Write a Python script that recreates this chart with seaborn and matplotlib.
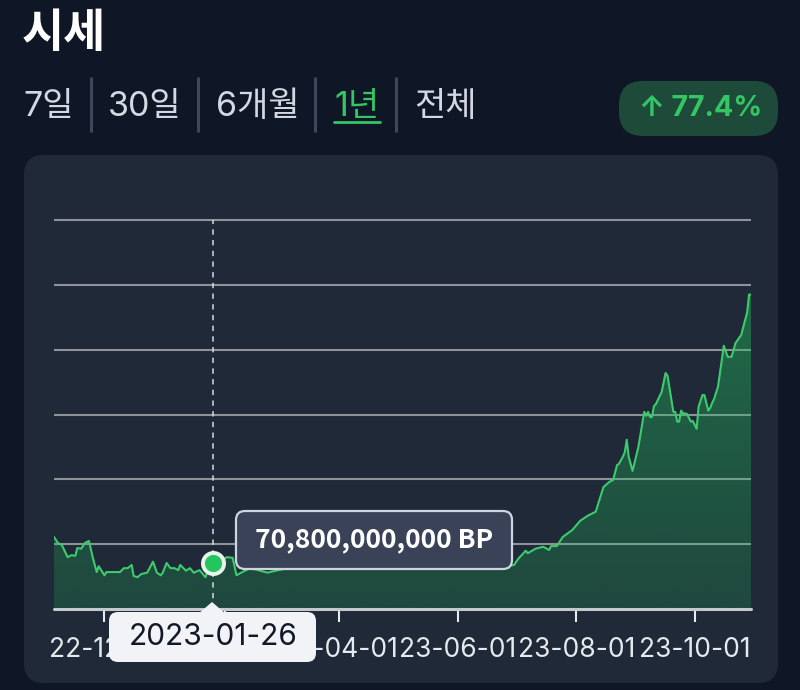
import numpy as np
import pandas as pd
import matplotlib
matplotlib.use('Agg')
import matplotlib.pyplot as plt
import matplotlib.dates as mdates
from matplotlib.patches import FancyBboxPatch, Polygon
import seaborn as sns

# Data (values in billions of BP)
start_date = '2022-11-05'
days = [0, 2, 4, 7, 9, 11, 12, 14, 16, 18, 20, 22, 23, 26, 27, 31, 34, 36, 38, 40,
        41, 43, 45, 48, 51, 53, 55, 56, 58, 60, 62, 64, 65, 68, 70, 72, 75, 78, 79, 82,
        84, 87, 89, 92, 94, 97, 101, 105, 110, 114, 119, 127, 147, 168, 189, 209, 230, 237, 239, 243,
        244, 248, 252, 255, 256, 259, 262, 267, 271, 275, 279, 283, 286, 288, 290, 291, 293, 294, 295, 296,
        298, 301, 304, 305, 306, 307, 308, 309, 310, 313, 315, 316, 319, 320, 321, 322, 323, 324, 326, 328,
        329, 331, 332, 334, 335, 337, 338, 339, 340, 342, 345, 347, 349, 351, 354, 355, 357, 358, 359]
prices = [111, 102, 99, 80, 83, 82, 94, 93, 102, 105, 79, 57, 66, 52, 57, 57, 57, 63, 63, 68,
          51, 49, 54, 56, 73, 56, 52, 56, 71, 63, 63, 60, 68, 59, 63, 56, 60, 49, 57, 70.8,
          66, 76, 80, 79, 52, 57, 63, 60, 56, 59, 62, 66, 68, 66, 69, 65, 65, 68, 77, 90,
          86, 93, 96, 91, 97, 97, 111, 122, 136, 144, 150, 188, 196, 199, 222, 224, 235, 242, 261, 235,
          213, 250, 304, 298, 304, 296, 296, 313, 316, 335, 364, 360, 304, 304, 289, 289, 306, 302, 301, 289,
          290, 278, 312, 330, 330, 306, 310, 318, 324, 343, 406, 389, 389, 410, 423, 435, 457, 485, 485]
tick_dates = ['2022-12-01', '2023-02-01', '2023-04-01', '2023-06-01', '2023-08-01', '2023-10-01']
grid_values = [100, 200, 300, 400, 500, 600]
tabs = ['7일', '30일', '6개월', '1년', '전체']
selected_date = '2023-01-26'
selected_price = 70.8

dates = pd.Timestamp(start_date) + pd.to_timedelta(days, unit='D')
df = pd.DataFrame({'date': dates, 'price': prices})

sns.set_theme(style='dark')
plt.rcParams['font.family'] = ['Inter', 'Noto Sans CJK KR', 'DejaVu Sans']

BG = '#0f1726'
PANEL = '#1f2937'
GREEN = '#34c565'

fig = plt.figure(figsize=(8, 6.9), dpi=100, facecolor=BG)

# Background layer in pixel coordinates
bg = fig.add_axes([0, 0, 1, 1], zorder=0)
bg.set_xlim(0, 800)
bg.set_ylim(690, 0)
bg.axis('off')


def round_box(ax, x0, y0, x1, y1, r, **kw):
    box = FancyBboxPatch((x0 + r, y0 + r), x1 - x0 - 2 * r, y1 - y0 - 2 * r,
                         boxstyle=f'round,pad={r},rounding_size={r}', **kw)
    ax.add_patch(box)


round_box(bg, 24, 155, 778, 683, 20, fc=PANEL, ec='none')
round_box(bg, 619, 81, 778, 136, 24, fc='#1e4a3a', ec='none')

bg.text(22, 34, '시세', color='white', fontsize=33, fontweight='bold', va='center', ha='left',
        family=['Noto Sans CJK KR', 'DejaVu Sans'])

tab_x = [23, 108, 216, 334, 414]
for label, x in zip(tabs, tab_x):
    c = GREEN if label == '1년' else '#d3d8e2'
    bg.text(x, 107, label, color=c, fontsize=24.5, va='center', ha='left')
for x in [91, 198, 315, 396]:
    bg.plot([x, x], [77, 132], color='#3f4859', lw=2.2, solid_capstyle='butt')
bg.plot([334, 380], [122, 122], color=GREEN, lw=2)
bg.text(701, 109, '↑ 77.4%', color=GREEN, fontsize=20.5, fontweight='bold', va='center', ha='center')

# Chart layer
ax = fig.add_axes([54 / 800, 1 - 609 / 690, (751 - 54) / 800, (609 - 220) / 690], zorder=1)
ax.patch.set_alpha(0)
for s in ax.spines.values():
    s.set_visible(False)
ax.hlines(grid_values, dates[0], dates[-1], color='#8f9299', lw=1.5, zorder=1, clip_on=False)

# Gradient under the line
x_num = mdates.date2num(dates)
grad = np.zeros((256, 1, 4))
grad[..., :3] = matplotlib.colors.to_rgb('#22c55e')
grad[:, 0, 3] = np.linspace(0.42, 0.2, 256)
im = ax.imshow(grad, extent=[x_num[0], x_num[-1], 0, max(prices)], aspect='auto', zorder=2, origin='upper')
poly = Polygon(np.column_stack([np.r_[x_num[0], x_num, x_num[-1]], np.r_[0, prices, 0]]),
               transform=ax.transData, fc='none', ec='none')
ax.add_patch(poly)
im.set_clip_path(poly)
ax.axhline(0, color='#c4c9d0', lw=2.2, zorder=3, clip_on=False)

sns.lineplot(data=df, x='date', y='price', ax=ax, color='#3ccb6c', linewidth=1.5, zorder=3, errorbar=None)

sel = pd.Timestamp(selected_date)
ax.plot([sel, sel], [0, 600], color='#d5d9e0', lw=1.1, dashes=(3.5, 3.5), zorder=4)
ax.scatter([sel], [selected_price], s=230, color='#22c55e', edgecolor='#e8f5ec', linewidth=2.8, zorder=5)

ax.set_xlim(dates[0], dates[-1])
ax.set_ylim(0, 600)
ax.set_yticks([])
ax.set_xticks(pd.to_datetime(tick_dates))
ax.xaxis.set_major_formatter(mdates.DateFormatter('%y-%m-%d'))
ax.tick_params(axis='x', colors='#e6e9ee', length=9, width=1.5, pad=11, labelsize=19, bottom=True)
ax.set_xlabel('')
ax.set_ylabel('')

# Tooltips on top
top = fig.add_axes([0, 0, 1, 1], zorder=2)
top.set_xlim(0, 800)
top.set_ylim(690, 0)
top.axis('off')

top.add_patch(Polygon([[198, 614], [212, 602], [226, 614]], fc='#f1f3f6', ec='none'))
round_box(top, 109, 612, 316, 662, 9, fc='#f1f3f6', ec='none')
top.text(213, 637, selected_date, color='#111827', fontsize=21.5, va='center', ha='center')

round_box(top, 236, 511, 512, 569, 9, fc='#394256', ec='#cfd5df', lw=1.6)
top.text(374, 540, '70,800,000,000 BP', color='white', fontsize=19, fontweight='bold', va='center', ha='center',
         family=['Noto Sans CJK KR', 'DejaVu Sans'])

fig.savefig('out.png', dpi=100, facecolor=BG)
